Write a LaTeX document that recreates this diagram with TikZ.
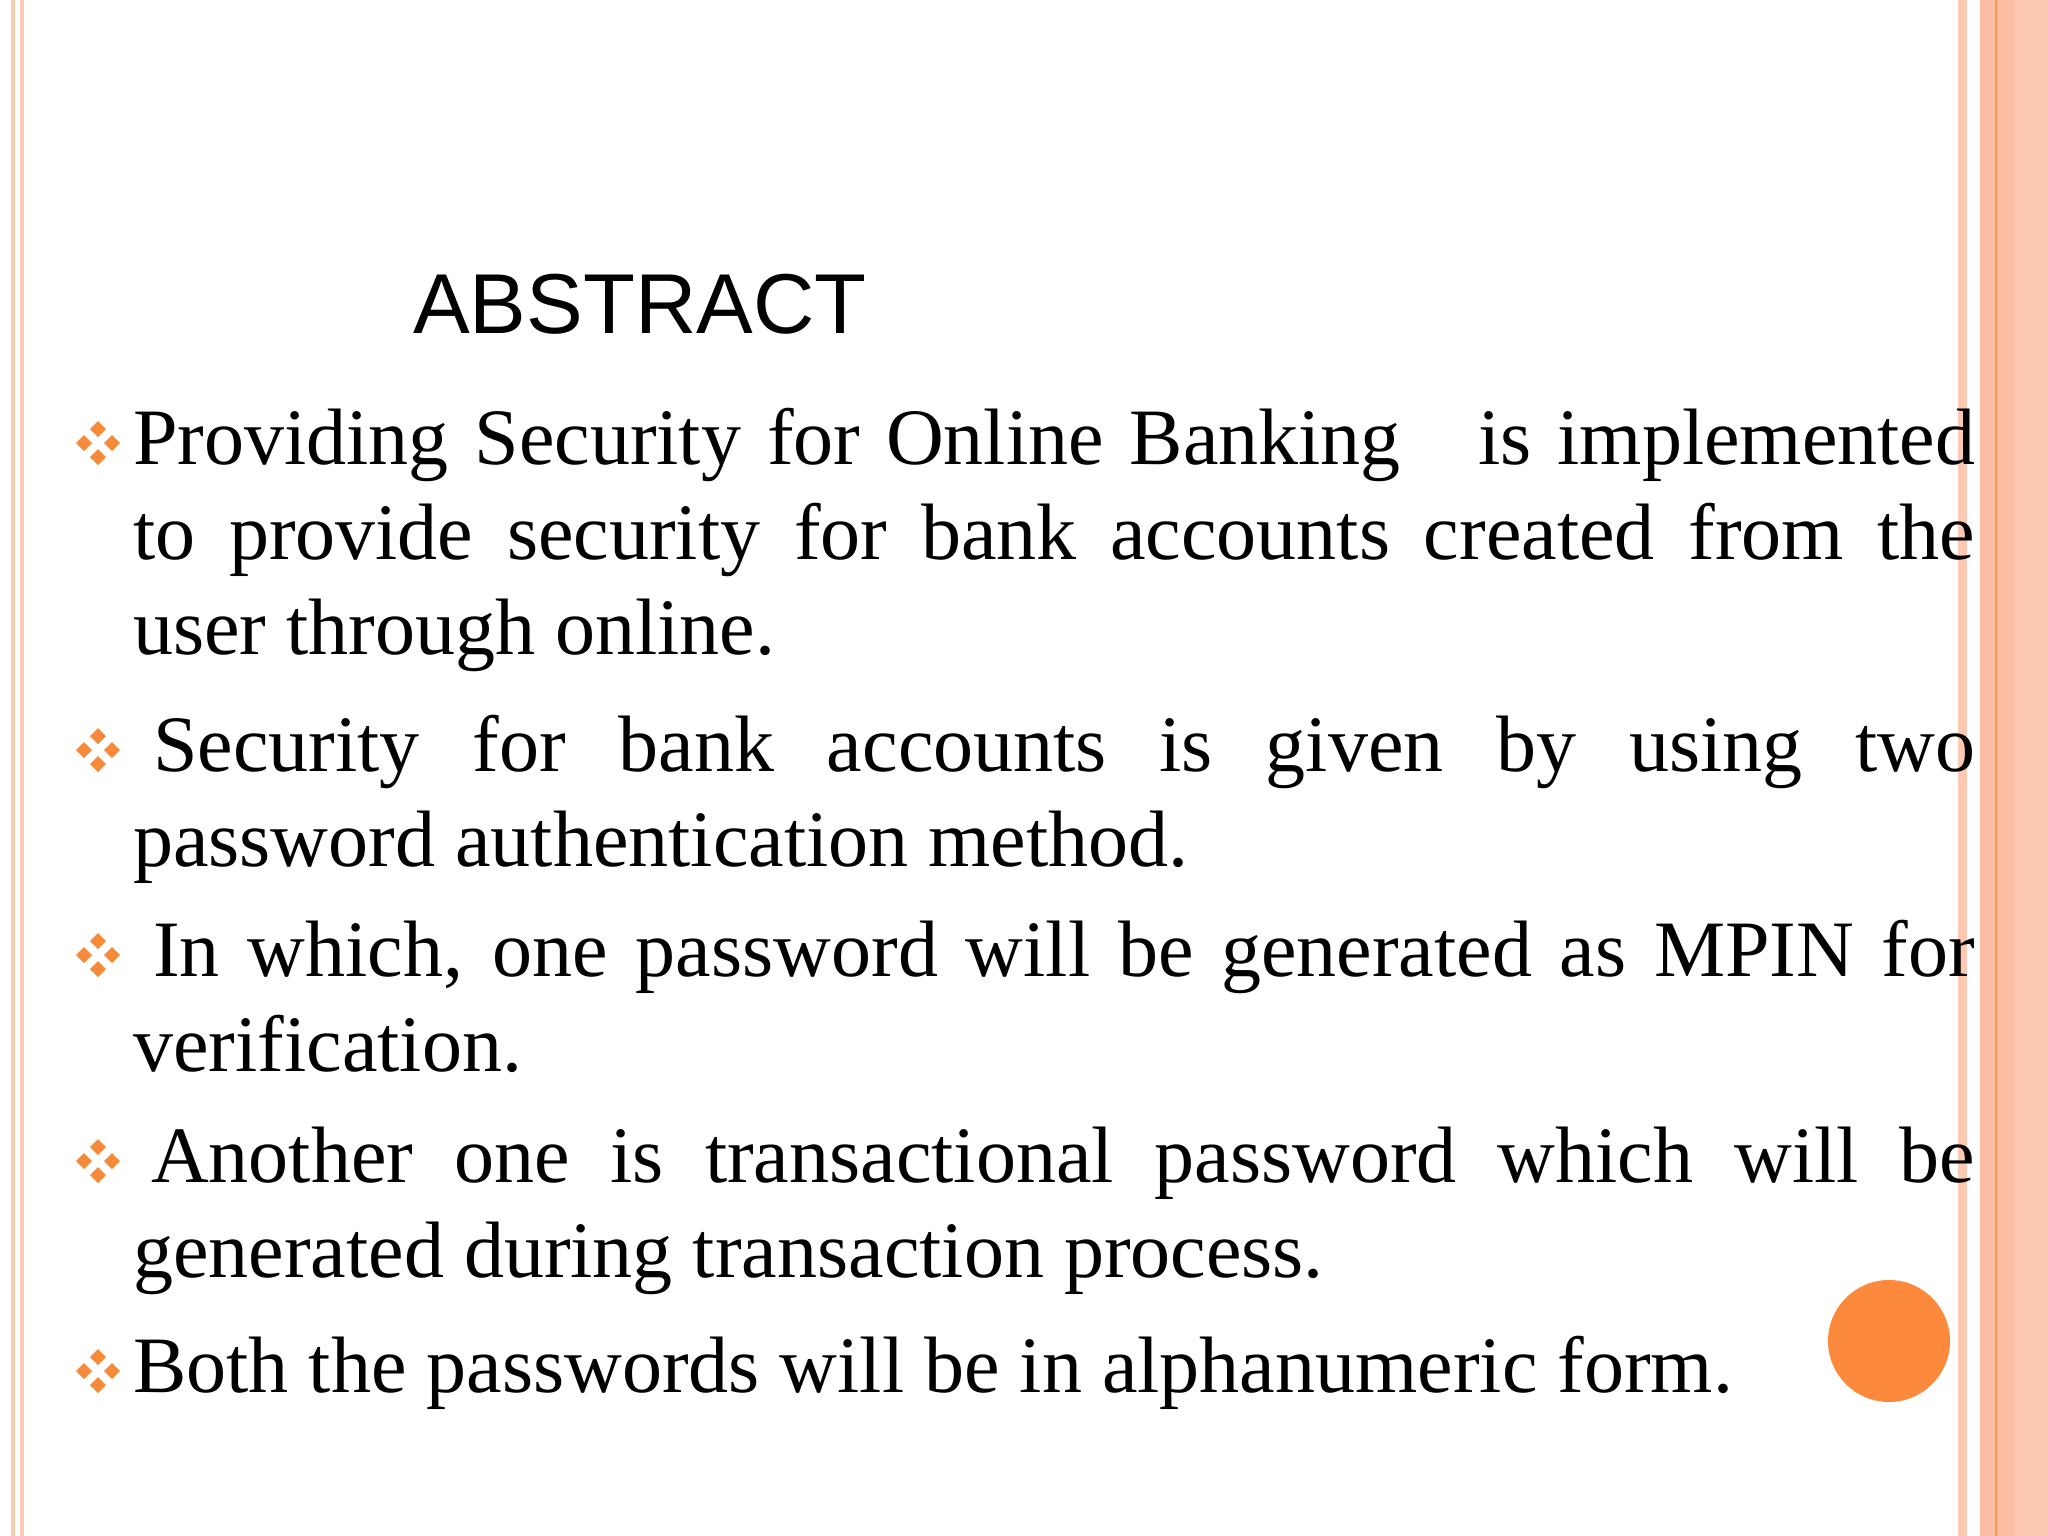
\documentclass[tikz,border=0pt]{standalone}
\usepackage{fontspec}
\setmainfont{Liberation Serif}
\newfontfamily\titlefont{Liberation Sans}
\definecolor{bord}{HTML}{FDC9B2}
\definecolor{bordd}{HTML}{FBBEA3}
\definecolor{orng}{HTML}{F58A3A}
\definecolor{circ}{HTML}{FD8A3C}
\tikzset{
 para/.style={anchor=base west,inner sep=0pt,align=left},
}
\newcommand{\bul}[1]{%
 \foreach \dx/\dy in {-14/0,14/0,0/-14,0/14}{
  \fill[orng] ($(#1)+(\dx,\dy)$) ++(0,8) -- ++(8,-8) -- ++(-8,-8) -- ++(-8,8) -- cycle;}}
\usetikzlibrary{calc}
\begin{document}
\begin{tikzpicture}[x=1pt,y=-1pt]
\useasboundingbox (0,0) rectangle (2048,1536);
\fill[white] (0,0) rectangle (2048,1536);
% left border
\fill[bord] (11,0) rectangle (15,1536);
\fill[bord] (20,0) rectangle (24,1536);
% right border
\fill[bord] (1958,0) rectangle (1967,1536);
\fill[bord] (1980,0) rectangle (2048,1536);
\fill[bordd] (1980,0) rectangle (2015,1536);
\fill[orng!80!bord] (1995,0) rectangle (1997,1536);
% title
\node[para] (title) at (413,333) {\titlefont\fontsize{85}{95}\selectfont ABSTRACT};
% paragraphs
\def\pbox#1{\parbox[t]{1842pt}{\hyphenpenalty=10000\exhyphenpenalty=10000\emergencystretch=500pt\fontsize{80}{95}\selectfont #1}}
\node[para] (p1) at (133,464) {\pbox{Providing Security for Online Banking\ \ \ is implemented\linebreak to provide security for bank accounts created from the\linebreak user through online.}};
\node[para] (p2) at (133,771) {\pbox{\hspace{20pt}Security for bank accounts is given by using two\linebreak password authentication method.}};
\node[para] (p3) at (133,976) {\pbox{\hspace{20pt}In which, one password will be generated as MPIN for\linebreak verification.}};
\node[para] (p4) at (133,1182) {\pbox{\hspace{18pt}Another one is transactional password which will be\linebreak generated during transaction process.}};
\node[para] (p5) at (133,1392) {\pbox{Both the passwords will be in alphanumeric form.}};
\foreach \y in {443,750,955,1161,1371}{\coordinate (b) at (98,\y); \bul{b}}
\fill[circ] (1889,1341) circle (61);
\end{tikzpicture}
\end{document}
